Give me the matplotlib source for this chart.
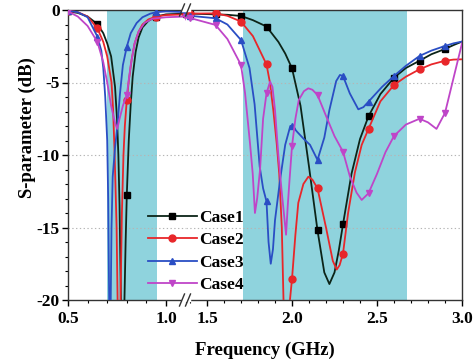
import numpy as np
import matplotlib
matplotlib.use("Agg")
import matplotlib.pyplot as plt
from matplotlib.lines import Line2D

plt.rcParams['font.family'] = ['Liberation Serif', 'DejaVu Serif']
plt.rcParams['font.weight'] = 'bold'
plt.rcParams['axes.unicode_minus'] = False

# ---- data (GHz, dB) ----
f1 = [0.5, 0.55, 0.6, 0.65, 0.68, 0.70, 0.72, 0.74, 0.75, 0.757, 0.763, 0.77, 0.774, 0.778,
      0.783, 0.788, 0.794, 0.80, 0.81, 0.82, 0.83, 0.845, 0.86, 0.88, 0.91, 0.95, 1.0, 1.1,
      1.25, 1.4, 1.55, 1.62, 1.7, 1.77, 1.85, 1.92, 1.96, 2.0, 2.05, 2.1, 2.15, 2.19, 2.22,
      2.25, 2.275, 2.3, 2.35, 2.4, 2.45, 2.52, 2.6, 2.67, 2.75, 2.82, 2.9, 2.95, 3.0]
s1 = [-0.1, -0.2, -0.45, -0.97, -1.6, -2.3, -3.2, -5.3, -7.5, -10, -13.5, -20, -25, -27,
      -25, -20, -16, -12.76, -9, -6.5, -4.6, -2.9, -1.9, -1.2, -0.75, -0.45, -0.3, -0.25,
      -0.25, -0.25, -0.3, -0.33, -0.41, -0.7, -1.14, -2.2, -3.0, -4.02, -6.6, -10.8, -15.2, -18.1, -18.9,
      -18.1, -16.6, -14.78, -11.3, -8.9, -7.33, -5.8, -4.67, -4.0, -3.5, -3.05, -2.69, -2.42, -2.18]

f2 = [0.5, 0.55, 0.6, 0.65, 0.68, 0.70, 0.722, 0.73, 0.738, 0.744, 0.748, 0.753, 0.758, 0.763,
      0.768, 0.775, 0.783, 0.79, 0.80, 0.81, 0.825, 0.84, 0.86, 0.88, 0.91, 0.95, 1.0, 1.1,
      1.25, 1.4, 1.55, 1.62, 1.7, 1.77, 1.85, 1.87, 1.89, 1.91, 1.925, 1.94, 1.95, 1.96, 1.975,
      1.988, 2.0, 2.02, 2.037, 2.067, 2.096, 2.12, 2.15, 2.2, 2.24, 2.263, 2.28, 2.3, 2.33, 2.37,
      2.41, 2.45, 2.52, 2.6, 2.67, 2.75, 2.82, 2.9, 2.95, 3.0]
s2 = [-0.05, -0.15, -0.45, -1.26, -2.2, -3.2, -5, -6.8, -10, -13, -15, -20, -26, -26,
      -20, -14, -10, -8, -6.2, -4.9, -3.4, -2.3, -1.5, -1.0, -0.65, -0.45, -0.35, -0.3,
      -0.3, -0.25, -0.23, -0.4, -0.8, -1.8, -3.75, -5.0, -6.9, -9.2, -11.3, -15, -20, -26, -26,
      -20, -18.55, -15.5, -13.3, -12.0, -11.5, -11.7, -12.3, -15, -17.3, -17.9, -17.6, -16.8, -14, -11.2,
      -9.3, -8.2, -6.3, -5.17, -4.6, -4.09, -3.75, -3.5, -3.42, -3.4]

f3 = [0.5, 0.55, 0.6, 0.65, 0.67, 0.68, 0.69, 0.70, 0.705, 0.71, 0.714, 0.718, 0.722, 0.728,
      0.74, 0.752, 0.765, 0.78, 0.80, 0.82, 0.85, 0.88, 0.92, 0.95, 1.0, 1.1,
      1.25, 1.4, 1.55, 1.62, 1.7, 1.75, 1.78, 1.81, 1.83, 1.85, 1.862, 1.875, 1.888, 1.9, 1.93,
      1.96, 1.99, 2.0, 2.03, 2.07, 2.106, 2.15, 2.19, 2.22, 2.26, 2.282, 2.3, 2.34, 2.39, 2.42,
      2.45, 2.53, 2.6, 2.67, 2.75, 2.82, 2.9, 2.95, 3.0]
s3 = [-0.05, -0.15, -0.5, -1.84, -2.8, -4.0, -6.0, -9.0, -13, -20, -26, -20, -15, -11.5,
      -9.5, -8.0, -5.8, -3.8, -2.53, -1.6, -0.9, -0.5, -0.25, -0.15, -0.1, -0.15,
      -0.35, -0.4, -0.57, -1.0, -2.07, -4.0, -6.5, -10.8, -12.3, -13.2, -16, -17.5, -16.5, -14.5, -11.7,
      -9.3, -8.0, -7.98, -8.4, -8.9, -9.3, -10.34, -8.8, -6.9, -4.9, -4.48, -4.55, -5.75, -6.85, -6.7,
      -6.32, -5.3, -4.55, -3.85, -3.17, -2.8, -2.48, -2.3, -2.18]

f4 = [0.5, 0.55, 0.6, 0.65, 0.68, 0.70, 0.72, 0.74, 0.751, 0.765, 0.78, 0.80, 0.82, 0.84,
      0.86, 0.89, 0.93, 1.0, 1.1,
      1.25, 1.4, 1.55, 1.62, 1.7, 1.724, 1.753, 1.769, 1.782, 1.795, 1.812, 1.83, 1.85, 1.871,
      1.885, 1.9, 1.919, 1.94, 1.965, 1.975, 1.985, 2.0, 2.02, 2.04, 2.07, 2.096, 2.12, 2.15,
      2.2, 2.25, 2.3, 2.341, 2.38, 2.41, 2.45, 2.5, 2.55, 2.6, 2.67, 2.75, 2.8, 2.85, 2.9,
      2.95, 3.0]
s4 = [-0.1, -0.45, -1.1, -2.2, -3.6, -5.0, -6.6, -7.8, -8.2, -7.4, -6.6, -5.86, -3.8, -2.3,
      -1.5, -0.9, -0.6, -0.5, -0.45,
      -0.5, -0.55, -1.03, -2.0, -3.79, -5.75, -9.2, -11.3, -14.0, -13.0, -11.0, -7.5, -5.75, -4.94,
      -5.3, -6.9, -9.9, -12.6, -15.5, -13.5, -11.8, -9.38, -7.5, -6.2, -5.6, -5.4, -5.5, -5.86,
      -7.3, -8.7, -9.77, -11.5, -12.6, -13.1, -12.64, -11.3, -9.8, -8.69, -7.9, -7.5, -7.75, -8.2, -7.1,
      -4.7, -2.3]

labels = ['Case1', 'Case2', 'Case3', 'Case4']
marker_freqs = [0.5, 0.65, 0.8, 0.95, 1.1, 1.25, 1.4, 1.55, 1.7, 1.85, 2.0, 2.15, 2.3,
                2.45, 2.6, 2.75, 2.9]
band1 = (0.70, 0.955)
band2 = (1.71, 2.675)

colors = ['#0c2418', '#e8262a', '#2a4ec4', '#bf45c8']
mfc = ['black', '#e8262a', '#2a4ec4', '#bf45c8']
markers = ['s', 'o', '^', 'v']
series = [(f1, s1), (f2, s2), (f3, s3), (f4, s4)]

fig = plt.figure(figsize=(4.74, 3.62), dpi=100)
W, H = 474.0, 362.0
x0, xb, xr = 68, 186, 462
ytop, ybot = 10, 300
ax1 = fig.add_axes([x0 / W, 1 - ybot / H, (xb - x0) / W, (ybot - ytop) / H])
ax2 = fig.add_axes([xb / W, 1 - ybot / H, (xr - xb) / W, (ybot - ytop) / H])

ax1.set_xlim(0.5, 0.5 + (xb - x0) / 196.0)
ax2.set_xlim(1.5 - (207 - xb) / 170.0, 3.0)

for ax in (ax1, ax2):
    ax.set_ylim(-20, 0)
    ax.axvspan(*band1, color='#8fd3dd', lw=0, zorder=0)
    ax.axvspan(*band2, color='#8fd3dd', lw=0, zorder=0)
    for g in (-5, -10, -15):
        ax.axhline(g, color='#b5b5b5', ls=(0, (1.2, 2.2)), lw=0.8, zorder=0.5)
    for (f, s), c, mf, m in zip(series, colors, mfc, markers):
        idx = [i for i, v in enumerate(f) if np.any(np.isclose(v, marker_freqs))]
        ax.plot(f, s, color=c, lw=1.3, marker=m, markevery=idx, ms=5,
                mfc=mf, mec=mf, zorder=3)
    ax.tick_params(axis='both', which='both', direction='out', labelsize=12.5)
    ax.tick_params(which='major', length=4, width=1)
    ax.tick_params(which='minor', length=2.5, width=0.8)
    ax.tick_params(top=False, right=False)
    for sp in ax.spines.values():
        sp.set_linewidth(1.0)
        sp.set_color('#333333')

ax1.spines['right'].set_visible(False)
ax2.spines['left'].set_visible(False)
ax2.tick_params(axis='y', which='both', left=False, labelleft=False)
ax1.set_xticks([0.5, 1.0])
ax1.set_xticks(np.arange(0.6, 1.1, 0.1), minor=True)
ax1.set_xticklabels(['0.5', '1.0'])
ax2.set_xticks([1.5, 2.0, 2.5, 3.0])
ax2.set_xticks(np.arange(1.4, 3.0, 0.1), minor=True)
ax2.set_xticklabels(['1.5', '2.0', '2.5', '3.0'])
ax1.set_yticks([0, -5, -10, -15, -20])
ax1.set_yticks(np.arange(-19, 0, 1), minor=True)
ax1.set_yticklabels(['0', '-5', '-10', '-15', '-20'])
ax1.tick_params(axis='y', pad=2)
ax1.tick_params(axis='x', pad=4)
ax2.tick_params(axis='x', pad=4)

# axis break marks
for yy in (ytop, ybot):
    yf = 1 - yy / H
    fig.add_artist(Line2D([(xb - 3) / W, (xb + 3) / W], [yf, yf], color='white', lw=2.5, zorder=10))
    for dx in (-4, 2):
        fig.add_artist(Line2D([(xb + dx - 2.5) / W, (xb + dx + 2.5) / W],
                              [yf - 6 / H, yf + 6 / H], color='#333333', lw=1.0, zorder=11))

fig.text((x0 + xr) / 2 / W, 1 - 350 / H, 'Frequency (GHz)', ha='center', va='center',
         fontsize=13.5, fontweight='bold')
fig.text(27 / W, 1 - 128 / H, 'S-parameter (dB)', ha='center', va='center',
         rotation=90, fontsize=13.5, fontweight='bold')

handles = [Line2D([], [], color=c, lw=1.3, marker=m, ms=5, mfc=mf, mec=mf)
           for c, mf, m in zip(colors, mfc, markers)]
fig.legend(handles, labels, loc='upper left', bbox_to_anchor=(148 / W, 1 - 210 / H),
           frameon=False, fontsize=12.5, handlelength=2.8, handletextpad=0.15,
           labelspacing=0.35, borderpad=0, borderaxespad=0)

fig.savefig('out.png', dpi=100)
